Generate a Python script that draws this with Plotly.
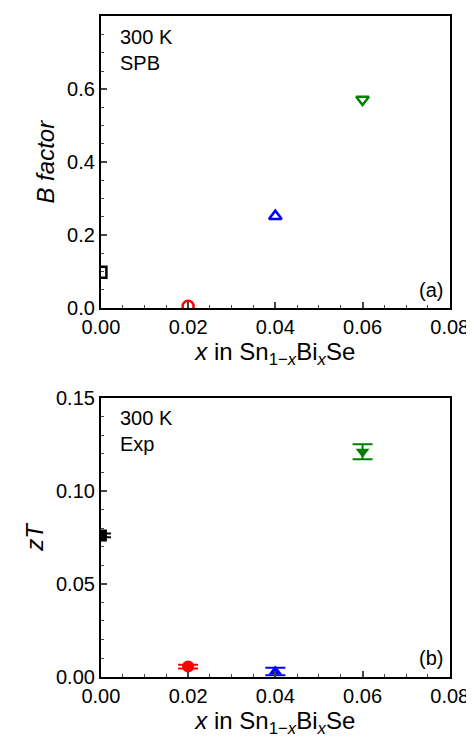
import plotly.graph_objects as go

x_vals = [0.0, 0.02, 0.04, 0.06]
b_factor = [0.098, 0.005, 0.252, 0.572]
zt = [0.076, 0.0055, 0.0028, 0.121]
zt_err = [0.001, 0.001, 0.002, 0.004]
colors = ["black", "red", "blue", "green"]
open_symbols = ["square-open", "circle-open", "triangle-up-open", "triangle-down-open"]
solid_symbols = ["square", "circle", "triangle-up", "triangle-down"]

fig = go.Figure()

for i in range(4):
    fig.add_trace(go.Scatter(
        x=[x_vals[i]], y=[b_factor[i]], mode="markers", cliponaxis=True,
        marker=dict(symbol=open_symbols[i], size=11, color=colors[i], line=dict(width=2.5, color=colors[i])),
        xaxis="x", yaxis="y", showlegend=False))
    fig.add_trace(go.Scatter(
        x=[x_vals[i]], y=[zt[i]], mode="markers", cliponaxis=True,
        error_y=dict(type="data", array=[zt_err[i]], color=colors[i], thickness=2, width=10),
        marker=dict(symbol=solid_symbols[i], size=12, color=colors[i]),
        xaxis="x2", yaxis="y2", showlegend=False))

ax = dict(showline=True, linecolor="black", linewidth=2, mirror=True, automargin=False,
          ticks="inside", ticklen=6, tickwidth=1.5, showgrid=False, zeroline=False,
          tickfont=dict(size=20, family="Arial, Liberation Sans"),
          minor=dict(ticks="inside", ticklen=3, tickwidth=1))
xtitle = "<i>x</i> in Sn<sub>1−<i>x</i></sub>Bi<sub><i>x</i></sub>Se"

fig.update_layout(
    width=474, height=754, paper_bgcolor="white", plot_bgcolor="white",
    margin=dict(l=0, r=0, t=0, b=0),
    font=dict(family="Arial, Liberation Sans", size=20, color="black"),
    xaxis=dict(ax, domain=[0.196, 0.932], range=[0, 0.08], dtick=0.02, tickformat=".2f", anchor="y",
               title=dict(text=xtitle, standoff=2)),
    yaxis=dict(ax, domain=[0.602, 0.989], range=[0, 0.8], dtick=0.2, tickformat=".1f", anchor="x",
               title=dict(text="<i>B factor</i>", standoff=6)),
    xaxis2=dict(ax, domain=[0.196, 0.932], range=[0, 0.08], dtick=0.02, tickformat=".2f", anchor="y2",
                title=dict(text=xtitle, standoff=2)),
    yaxis2=dict(ax, domain=[0.113, 0.483], range=[0, 0.15], dtick=0.05, tickformat=".2f", anchor="x2",
                title=dict(text="<i>zT</i>", standoff=6)),
    annotations=[
        dict(text="300 K<br>SPB", x=0.004, y=0.78, xref="x", yref="y", showarrow=False,
             xanchor="left", yanchor="top", align="left", font=dict(size=20)),
        dict(text="(a)", x=0.079, y=0.015, xref="x", yref="y", showarrow=False,
             xanchor="right", yanchor="bottom", font=dict(size=20)),
        dict(text="300 K<br>Exp", x=0.004, y=0.146, xref="x2", yref="y2", showarrow=False,
             xanchor="left", yanchor="top", align="left", font=dict(size=20)),
        dict(text="(b)", x=0.079, y=0.003, xref="x2", yref="y2", showarrow=False,
             xanchor="right", yanchor="bottom", font=dict(size=20)),
    ],
)

fig.write_html("out.html")
